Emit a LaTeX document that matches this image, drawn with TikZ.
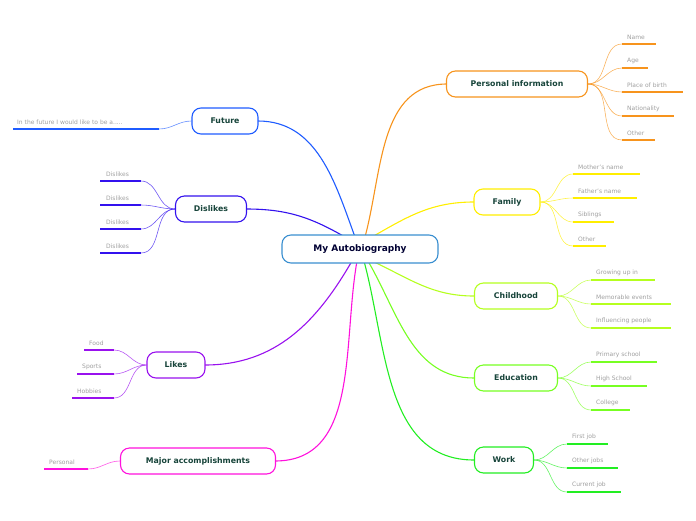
\documentclass[tikz,border=0pt]{standalone}
\usepackage{fontspec}
\setmainfont{DejaVu Sans}
\begin{document}
\begin{tikzpicture}[x=1pt,y=-1pt,
  main/.style={draw=#1,line width=1.1pt,rounded corners=9pt,minimum height=26pt,font=\bfseries\fontsize{7.8}{9}\selectfont,text=tg,fill=white},
  leaf/.style={font=\fontsize{6}{7}\selectfont,text=gray!75,anchor=south west,inner sep=1pt},
  conn/.style={draw=#1,line width=1.1pt},
  thin/.style={draw=#1,line width=0.6pt,opacity=0.7},
  under/.style={draw=#1,line width=1.6pt}]
\useasboundingbox (0,0) rectangle (696,520);
\definecolor{tg}{HTML}{17443A}
\definecolor{cO}{HTML}{F7941D}\definecolor{cY}{HTML}{FFEE00}\definecolor{cC}{HTML}{B5FF1F}
\definecolor{cE}{HTML}{77FF22}\definecolor{cW}{HTML}{22EE22}\definecolor{cF}{HTML}{1F5CFF}
\definecolor{cD}{HTML}{3311EE}\definecolor{cL}{HTML}{9911EE}\definecolor{cM}{HTML}{FF11DD}
\definecolor{cR}{HTML}{3A8FD0}
% connectors from root
\coordinate (r) at (360,249);
\draw[conn=cO] (365,237) to[out=75,in=180] (447,84);
\draw[conn=cY] (372,237) to[out=30,in=180] (474,202);
\draw[conn=cC] (372,261) to[out=-25,in=180] (474,296);
\draw[conn=cE] (368,261) to[out=-60,in=180] (474,378);
\draw[conn=cW] (364,261) to[out=-75,in=180] (474,460);
\draw[conn=cF] (355,237) to[out=110,in=0] (258,121);
\draw[conn=cD] (345,237) to[out=150,in=0] (246,209);
\draw[conn=cL] (352,261) to[out=-120,in=0] (205,365);
\draw[conn=cM] (357,261) to[out=-100,in=0] (275,461);
\node[main=cR,minimum width=156pt,minimum height=28pt,font=\bfseries\fontsize{9}{11}\selectfont,text=black!80!blue] (root) at (r) {My Autobiography};
\node[main=cO,minimum width=141pt] (pi) at (517,84) {Personal information};
\node[main=cY,minimum width=66pt] (fa) at (507,202) {Family};
\node[main=cC,minimum width=83pt] (ch) at (516,296) {Childhood};
\node[main=cE,minimum width=83pt] (ed) at (516,378) {Education};
\node[main=cW,minimum width=59pt] (wo) at (504,460) {Work};
\node[main=cF,minimum width=66pt] (fu) at (225,121) {Future};
\node[main=cD,minimum width=71pt] (di) at (211,209) {Dislikes};
\node[main=cL,minimum width=58pt] (li) at (176,365) {Likes};
\node[main=cM,minimum width=155pt] (ma) at (198,461) {Major accomplishments};
% right leaves
\foreach \t/\y/\e [count=\i] in {Name/44/656,Age/68/648,Place of birth/92/683,Nationality/116/674,Other/140/655}{
  \coordinate (pi\i) at (622,\y);
  \draw[thin=cO] (pi.east) to[out=0,in=180] (pi\i);
  \draw[under=cO] (pi\i) -- (\e,\y);
  \node[leaf] (pit\i) at (626,\y-3) {\t};}
\foreach \t/\y/\e [count=\i] in {Mother's name/174/640,Father's name/198/637,Siblings/222/614,Other/246/606}{
  \coordinate (fa\i) at (573,\y);
  \draw[thin=cY] (fa.east) to[out=0,in=180] (fa\i);
  \draw[under=cY] (fa\i) -- (\e,\y);
  \node[leaf] (fat\i) at (577,\y-3) {\t};}
\foreach \t/\y/\e [count=\i] in {Growing up in/280/655,Memorable events/304/671,Influencing people/328/671}{
  \coordinate (ch\i) at (591,\y);
  \draw[thin=cC] (ch.east) to[out=0,in=180] (ch\i);
  \draw[under=cC] (ch\i) -- (\e,\y);
  \node[leaf] (cht\i) at (595,\y-3) {\t};}
\foreach \t/\y/\e [count=\i] in {Primary school/362/657,High School/386/647,College/410/630}{
  \coordinate (ed\i) at (591,\y);
  \draw[thin=cE] (ed.east) to[out=0,in=180] (ed\i);
  \draw[under=cE] (ed\i) -- (\e,\y);
  \node[leaf] (edt\i) at (595,\y-3) {\t};}
\foreach \t/\y/\e [count=\i] in {First job/444/608,Other jobs/468/618,Current job/492/621}{
  \coordinate (wo\i) at (567,\y);
  \draw[thin=cW] (wo.east) to[out=0,in=180] (wo\i);
  \draw[under=cW] (wo\i) -- (\e,\y);
  \node[leaf] (wot\i) at (571,\y-3) {\t};}
% left leaves
\coordinate (fu1) at (159,129);
\draw[thin=cF] (fu.west) to[out=180,in=0] (fu1);
\draw[under=cF] (fu1) -- (13,129);
\node[leaf] (fut1) at (16,126) {In the future I would like to be a.....};
\foreach \y [count=\i] in {181,205,229,253}{
  \coordinate (di\i) at (141,\y);
  \draw[thin=cD] (di.west) to[out=180,in=0] (di\i);
  \draw[under=cD] (di\i) -- (100,\y);
  \node[leaf] (dit\i) at (105,\y-3) {Dislikes};}
\foreach \t/\y/\s [count=\i] in {Food/350/84,Sports/374/77,Hobbies/398/72}{
  \coordinate (li\i) at (114,\y);
  \draw[thin=cL] (li.west) to[out=180,in=0] (li\i);
  \draw[under=cL] (li\i) -- (\s,\y);
  \node[leaf] (lit\i) at (\s+4,\y-3) {\t};}
\coordinate (ma1) at (88,469);
\draw[thin=cM] (ma.west) to[out=180,in=0] (ma1);
\draw[under=cM] (ma1) -- (44,469);
\node[leaf] (mat1) at (48,466) {Personal};
\end{tikzpicture}
\end{document}
